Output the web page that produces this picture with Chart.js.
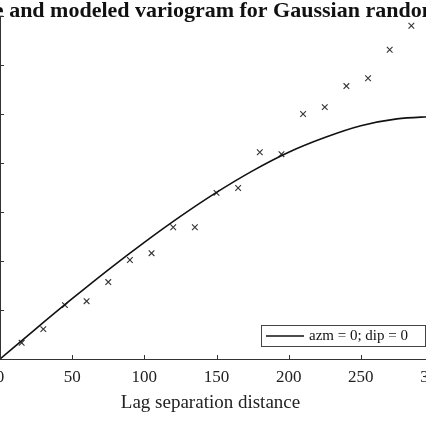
<!DOCTYPE html>
<html><head><meta charset="utf-8">
<script src="https://cdn.jsdelivr.net/npm/chart.js@4/dist/chart.umd.min.js"></script>
<style>html,body{margin:0;padding:0;overflow:hidden;background:#fff;width:426px;height:426px}
#wrap{position:absolute;left:-61px;top:0;width:500px;height:426px}</style>
</head><body><div id="wrap"><canvas id="c" width="500" height="426"></canvas></div>
<script>
const titleText = "Sample and modeled variogram for Gaussian random field";
const xTitle = "Lag separation distance";
const seriesLabel = "azm = 0; dip = 0";
const lags = [15,30,45,60,75,90,105,120,135,150,165,180,195,210,225,240,255,270,285];
const sampleGamma = [0.33,0.61,1.10,1.18,1.57,2.02,2.16,2.69,2.69,3.39,3.49,4.22,4.18,5.00,5.14,5.57,5.73,6.31,6.80];
const modelLags = [0,25,50,75,100,125,150,175,200,225,250,275,300];
const modelGamma = [0,0.62,1.23,1.82,2.38,2.91,3.40,3.84,4.22,4.52,4.76,4.90,4.95];
const xTicks = [0,50,100,150,200,250,300];
const yTicks = [0,1,2,3,4,5,6,7];
const serif = "'Liberation Serif', 'DejaVu Serif', serif";

const extras = {
  id:'extras',
  afterDraw(ch){
    const c=ch.ctx, a=ch.chartArea, xs=ch.scales.x, ys=ch.scales.y;
    c.save();
    c.fillStyle='#111'; c.font="bold 22px "+serif; c.textAlign='center'; c.textBaseline='middle';
    c.fillText(titleText,(a.left+a.right)/2-6,11);
    c.strokeStyle='#333'; c.lineWidth=1;
    c.beginPath(); c.moveTo(a.left,a.bottom+0.5); c.lineTo(a.right,a.bottom+0.5);
    c.moveTo(a.left+0.5,a.top); c.lineTo(a.left+0.5,a.bottom); c.stroke();
    c.beginPath();
    xTicks.forEach(v=>{const p=Math.round(xs.getPixelForValue(v))+0.5;c.moveTo(p,a.bottom);c.lineTo(p,a.bottom-4);});
    yTicks.forEach(v=>{const p=Math.round(ys.getPixelForValue(v))+0.5;c.moveTo(a.left,p);c.lineTo(a.left+4,p);});
    c.stroke();
    c.fillStyle='#222'; c.font="17px "+serif; c.textBaseline='middle';
    xTicks.forEach(v=>c.fillText(String(v),xs.getPixelForValue(v),a.bottom+19));
    c.textAlign='right';
    yTicks.forEach(v=>c.fillText(String(v),a.left-6,ys.getPixelForValue(v)));
    c.textAlign='center'; c.font="19px "+serif;
    c.fillText(xTitle,(a.left+a.right)/2-6,a.bottom+44);
    // legend box
    const lx=61+261, ly=325, lw=164, lh=21;
    c.fillStyle='#fff'; c.fillRect(lx,ly,lw,lh);
    c.strokeStyle='#444'; c.lineWidth=1; c.strokeRect(lx+0.5,ly+0.5,lw,lh);
    c.strokeStyle='#111'; c.lineWidth=1.3;
    c.beginPath(); c.moveTo(lx+5,ly+11); c.lineTo(lx+43,ly+11); c.stroke();
    c.fillStyle='#111'; c.font="15px "+serif; c.textAlign='left';
    c.fillText(seriesLabel,lx+48,ly+11.5);
    c.restore();
  }
};

new Chart(document.getElementById('c'),{
  data:{datasets:[
    {type:'line',label:seriesLabel,data:modelLags.map((x,i)=>({x,y:modelGamma[i]})),borderColor:'#111',borderWidth:1.6,pointRadius:0,cubicInterpolationMode:'monotone',fill:false},
    {type:'scatter',label:'sample',data:lags.map((x,i)=>({x,y:sampleGamma[i]})),pointStyle:'crossRot',pointRadius:4,borderColor:'#333',borderWidth:1.1,backgroundColor:'#333'}
  ]},
  options:{responsive:false,animation:false,
    layout:{padding:{top:16,right:6,left:61,bottom:67}},
    plugins:{legend:{display:false},tooltip:{enabled:false},title:{display:false}},
    scales:{
      x:{type:'linear',min:0,max:300,display:false},
      y:{min:0,max:7,display:false}
    }},
  plugins:[extras]
});
</script></body></html>
